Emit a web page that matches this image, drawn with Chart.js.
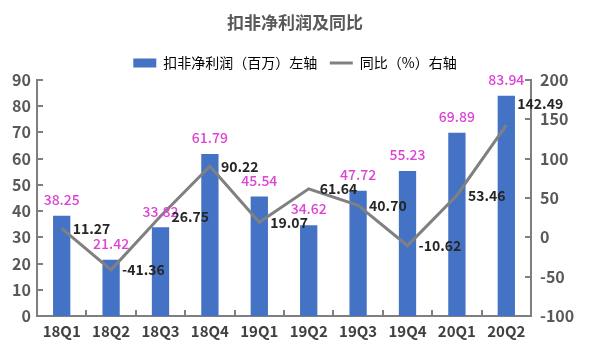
<!DOCTYPE html>
<html>
<head>
<meta charset="utf-8">
<script src="https://cdn.jsdelivr.net/npm/chart.js@4.4.1/dist/chart.umd.min.js"></script>
<style>
html,body{margin:0;padding:0;background:#fff;}
#wrap{width:590px;height:354px;position:relative;}
</style>
</head>
<body>
<div id="wrap"><canvas id="c" width="590" height="354"></canvas></div>
<script>
const categories = ['18Q1','18Q2','18Q3','18Q4','19Q1','19Q2','19Q3','19Q4','20Q1','20Q2'];
const profit = [38.25, 21.42, 33.82, 61.79, 45.54, 34.62, 47.72, 55.23, 69.89, 83.94];
const yoy = [11.27, -41.36, 26.75, 90.22, 19.07, 61.64, 40.70, -10.62, 53.46, 142.49];
const leftTicks = [0,10,20,30,40,50,60,70,80,90];
const rightTicks = [-100,-50,0,50,100,150,200];

const FONT = "'Noto Sans CJK SC','Noto Sans',sans-serif";
const AXIS = '#7f7f7f';

const innerTicks = {
  id: 'innerTicks',
  afterDraw(chart) {
    const ctx = chart.ctx;
    const {x, y, y1} = chart.scales;
    ctx.save();
    ctx.strokeStyle = AXIS;
    ctx.lineWidth = 2;
    ctx.beginPath();
    leftTicks.forEach(v => { const p = Math.round(y.getPixelForValue(v)); ctx.moveTo(y.right, p); ctx.lineTo(y.right + 6, p); });
    rightTicks.forEach(v => { const p = Math.round(y1.getPixelForValue(v)); ctx.moveTo(y1.left, p); ctx.lineTo(y1.left - 6, p); });
    for (let i = 1; i < categories.length; i++) {
      const p = Math.round((x.getPixelForValue(i - 1) + x.getPixelForValue(i)) / 2);
      ctx.moveTo(p, x.top); ctx.lineTo(p, x.top - 6);
    }
    ctx.stroke();
    ctx.restore();
  }
};

const valueLabels = {
  id: 'valueLabels',
  afterDatasetsDraw(chart) {
    const ctx = chart.ctx;
    ctx.save();
    const bars = chart.getDatasetMeta(0).data;
    ctx.font = "500 14px " + FONT;
    ctx.fillStyle = '#dd44d4';
    ctx.textAlign = 'center';
    ctx.textBaseline = 'middle';
    bars.forEach((b, i) => { ctx.fillText(profit[i].toFixed(2), b.x, b.y - 16); });
    const pts = chart.getDatasetMeta(1).data;
    ctx.font = "bold 14px " + FONT;
    ctx.fillStyle = '#262626';
    ctx.textAlign = 'left';
    pts.forEach((p, i) => {
      let dy = 0;
      if (i === pts.length - 1) dy = -21;
      ctx.fillText(yoy[i].toFixed(2), p.x + 11, p.y + dy);
    });
    ctx.restore();
  }
};

new Chart(document.getElementById('c'), {
  data: {
    labels: categories,
    datasets: [
      {
        type: 'bar',
        label: '扣非净利润（百万）左轴',
        data: profit,
        backgroundColor: '#4472c4',
        yAxisID: 'y',
        barPercentage: 0.35,
        categoryPercentage: 1.0,
        order: 2
      },
      {
        type: 'line',
        label: '同比（%）右轴',
        data: yoy,
        borderColor: '#808080',
        backgroundColor: '#808080',
        borderWidth: 3,
        pointRadius: 0,
        tension: 0,
        yAxisID: 'y1',
        order: 1
      }
    ]
  },
  plugins: [innerTicks, valueLabels],
  options: {
    responsive: false,
    animation: false,
    devicePixelRatio: 1,
    layout: { padding: { left: 0, right: 0, top: 4, bottom: 8 } },
    plugins: {
      title: {
        display: true,
        text: '扣非净利润及同比',
        color: '#595959',
        font: { family: FONT, size: 17, weight: 'bold' },
        padding: { top: 8, bottom: 11 }
      },
      legend: {
        display: true,
        labels: {
          color: '#404040',
          font: { family: FONT, size: 14 },
          usePointStyle: true,
          pointStyleWidth: 23,
          boxHeight: 9,
          padding: 12.5,
          generateLabels(chart) {
            return [
              { text: '扣非净利润（百万）左轴', fillStyle: '#4472c4', strokeStyle: '#4472c4', lineWidth: 0, pointStyle: 'rect', datasetIndex: 0 },
              { text: '同比（%）右轴', fillStyle: '#808080', strokeStyle: '#808080', lineWidth: 3, pointStyle: 'line', datasetIndex: 1 }
            ];
          }
        }
      },
      tooltip: { enabled: false }
    },
    scales: {
      x: {
        offset: true,
        grid: { display: false, drawTicks: false },
        border: { display: true, color: AXIS, width: 2 },
        ticks: { color: '#404040', font: { family: FONT, size: 15, weight: 'bold' }, padding: 6, maxRotation: 0, autoSkip: false }
      },
      y: {
        position: 'left',
        min: 0, max: 90,
        afterBuildTicks(s) { s.ticks = leftTicks.map(v => ({ value: v })); },
        afterFit(s) { s.width = 37; },
        grid: { display: false, drawTicks: false },
        border: { display: true, color: AXIS, width: 2 },
        ticks: { color: '#595959', font: { family: FONT, size: 16, weight: 'bold' }, padding: 6 }
      },
      y1: {
        position: 'right',
        min: -100, max: 200,
        afterBuildTicks(s) { s.ticks = rightTicks.map(v => ({ value: v })); },
        afterFit(s) { s.width = 59; },
        grid: { display: false, drawTicks: false },
        border: { display: true, color: AXIS, width: 2 },
        ticks: { color: '#595959', font: { family: FONT, size: 16, weight: 'bold' }, padding: 9 }
      }
    }
  }
});
</script>
</body>
</html>
